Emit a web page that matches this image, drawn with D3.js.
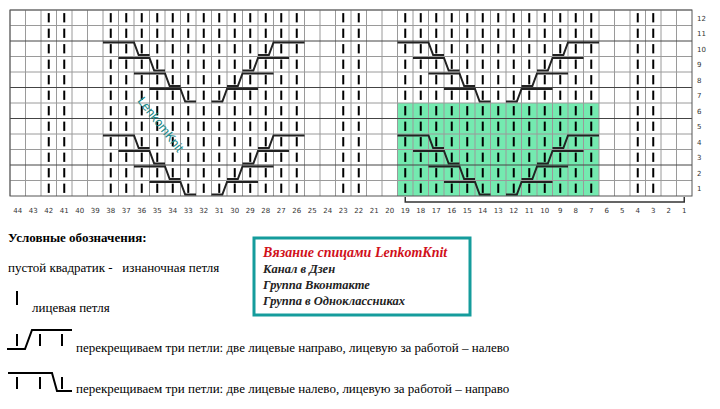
<!DOCTYPE html>
<html><head><meta charset="utf-8">
<script src="https://cdn.jsdelivr.net/npm/d3@7"></script>
<style>body{margin:0;background:#fff}</style></head>
<body><svg id="c" width="720" height="409"></svg>
<script>
const columns = d3.range(44,0,-1);
const rows = d3.range(12,0,-1);
const knitCols = [42,41,38,37,36,35,34,33,32,31,30,29,28,27,26,23,22,19,18,17,16,15,14,13,12,11,10,9,8,7,4,3];
const highlight = {cols:[19,7], rows:[1,6]};
const darkLines = [10,7,5,2]; // top edge of these rows
const cablesDown = [[1,35],[2,36],[3,37],[4,38],[7,35],[8,36],[9,37],[10,38],[1,16],[2,17],[3,18],[4,19],[7,16],[8,17],[9,18],[10,19]];
const cablesUp = [[1,31],[2,30],[3,29],[4,28],[7,31],[8,30],[9,29],[10,28],[1,12],[2,11],[3,10],[4,9],[7,12],[8,11],[9,10],[10,9]];

const svg = d3.select('#c');
const x = d3.scaleBand().domain(columns).range([10,692]);
const y = d3.scaleBand().domain(rows).range([10,196]);
const cw = x.bandwidth(), rh = y.bandwidth();

svg.append('rect').attr('x',x(highlight.cols[0])).attr('y',y(highlight.rows[1]))
  .attr('width',x(highlight.cols[1])+cw-x(highlight.cols[0]))
  .attr('height',y(highlight.rows[0])+rh-y(highlight.rows[1])).attr('fill','#74eab0');
const g = svg.append('g');
columns.forEach(c=>g.append('line').attr('x1',x(c)).attr('x2',x(c)).attr('y1',10).attr('y2',196).attr('stroke','#9a9a9a'));
rows.forEach(r=>g.append('line').attr('x1',10).attr('x2',692).attr('y1',y(r)).attr('y2',y(r)).attr('stroke',darkLines.includes(r)?'#444':'#9a9a9a'));
g.append('rect').attr('x',10).attr('y',10).attr('width',682).attr('height',186).attr('fill','none').attr('stroke','#555');
rows.forEach(r=>knitCols.forEach(c=>{
  svg.append('line').attr('x1',x(c)+cw/2).attr('x2',x(c)+cw/2).attr('y1',y(r)+rh*0.2).attr('y2',y(r)+rh*0.8).attr('stroke','#000').attr('stroke-width',2);
}));
const line = d3.line();
function cable(r,c,dir){
  const x0=x(c), t=y(r)+1.5, b=y(r)+rh-1.5;
  const pts = dir==='down' ? [[x0,t],[x0+2*cw,t],[x0+2.3*cw,b],[x0+3*cw,b]]
                           : [[x0,b],[x0+0.7*cw,b],[x0+cw,t],[x0+3*cw,t]];
  svg.append('path').attr('d',line(pts)).attr('fill','none').attr('stroke','#222').attr('stroke-width',2);
}
cablesDown.forEach(d=>cable(d[0],d[1],'down'));
cablesUp.forEach(d=>cable(d[0],d[1],'up'));
columns.forEach(c=>svg.append('text').attr('x',x(c)+cw/2).attr('y',213).attr('text-anchor','middle').attr('font-size',7).attr('font-family','DejaVu Sans').attr('fill','#333').text(c));
rows.forEach(r=>svg.append('text').attr('x',697).attr('y',y(r)+rh/2+3).attr('font-size',7).attr('font-family','DejaVu Sans').attr('fill','#333').text(r));
const bx1=x(19)+cw/2, bx2=x(1)+cw/2;
svg.append('path').attr('d',line([[bx1,197],[bx1,202],[bx2,202],[bx2,197]])).attr('fill','none').attr('stroke','#333').attr('stroke-width',1.5);
svg.append('text').attr('transform','translate(137,101) rotate(52)').attr('font-family','Liberation Sans').attr('font-size',12.5).attr('fill','#1a8a8a').text('LenkomKnit');

const serif='Liberation Serif';
svg.append('text').attr('x',8).attr('y',242).attr('font-family',serif).attr('font-weight','bold').attr('font-size',13).text('Условные обозначения:');
svg.append('text').attr('x',8).attr('y',272).attr('font-family',serif).attr('font-size',13).attr('xml:space','preserve').text('пустой квадратик -   изнаночная петля');
svg.append('line').attr('x1',17).attr('x2',17).attr('y1',291).attr('y2',305).attr('stroke','#000').attr('stroke-width',2);
svg.append('text').attr('x',32).attr('y',312).attr('font-family',serif).attr('font-size',13).text('лицевая петля');
function legendCable(y0,dir){
  const pts = dir==='up' ? [[7,y0+19],[25,y0+19],[32,y0],[72,y0]] : [[8,y0],[52,y0],[57,y0+18],[72,y0+18]];
  svg.append('path').attr('d',line(pts)).attr('fill','none').attr('stroke','#000').attr('stroke-width',2);
  [17,40,62].forEach(v=>svg.append('line').attr('x1',v).attr('x2',v).attr('y1',y0+4).attr('y2',y0+16).attr('stroke','#000').attr('stroke-width',2));
}
legendCable(330,'up'); legendCable(373,'down');
svg.append('text').attr('x',76).attr('y',352).attr('font-family',serif).attr('font-size',13).text('перекрещиваем три петли: две лицевые направо, лицевую за работой – налево');
svg.append('text').attr('x',76).attr('y',393).attr('font-family',serif).attr('font-size',13).text('перекрещиваем три петли: две лицевые налево, лицевую за работой – направо');
svg.append('rect').attr('x',254).attr('y',238).attr('width',216).attr('height',77).attr('fill','#fff').attr('stroke','#159c9c').attr('stroke-width',3);
svg.append('text').attr('x',263).attr('y',257).attr('font-family',serif).attr('font-style','italic').attr('font-weight','bold').attr('font-size',14).attr('fill','#d0101a').text('Вязание спицами LenkomKnit');
['Канал в Дзен','Группа Вконтакте','Группа в Одноклассниках'].forEach((t,i)=>
  svg.append('text').attr('x',263).attr('y',273+i*16).attr('font-family',serif).attr('font-style','italic').attr('font-weight','bold').attr('font-size',12.5).attr('fill','#222').text(t));
</script></body></html>
